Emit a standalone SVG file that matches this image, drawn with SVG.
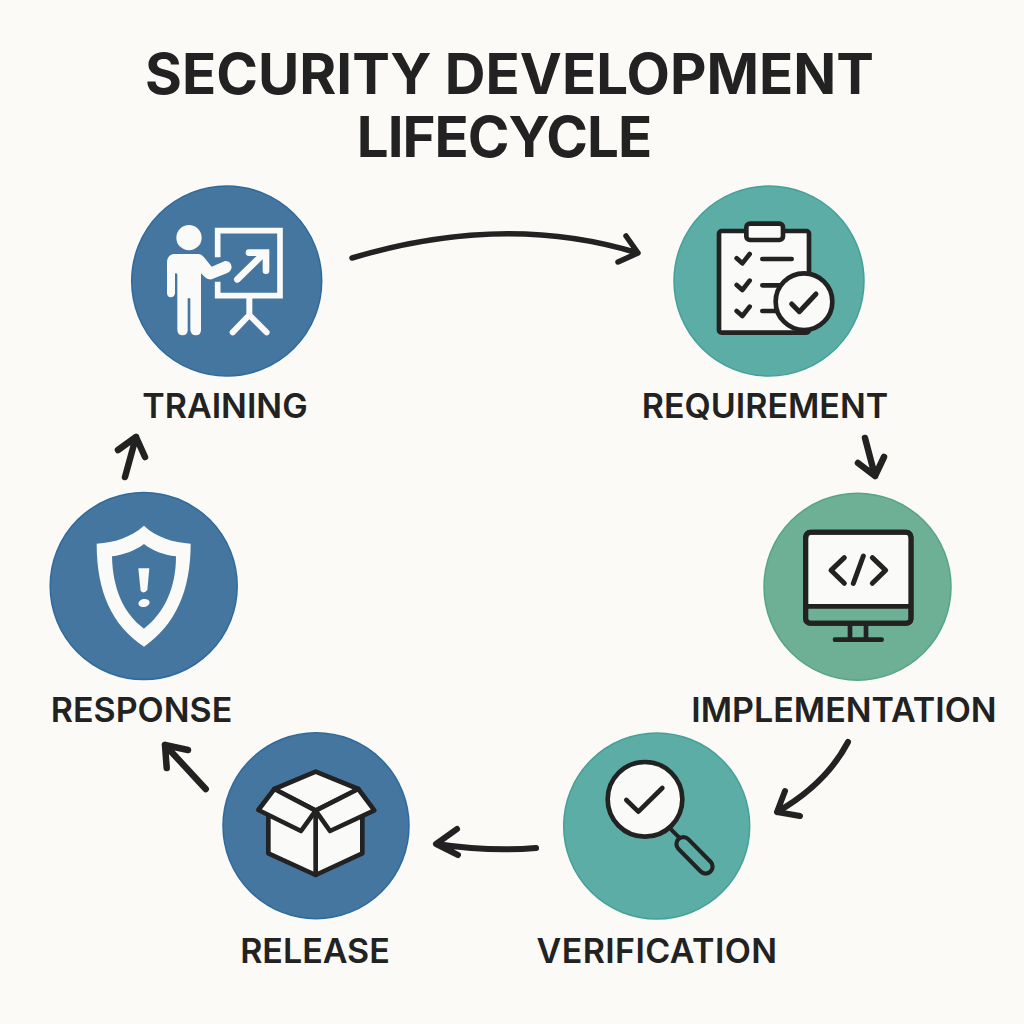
<svg xmlns="http://www.w3.org/2000/svg" width="1024" height="1024" viewBox="0 0 1024 1024">
<style>
text{font-family:Inter,"Liberation Sans",sans-serif;fill:#222;text-anchor:middle}
.title{font-size:56.400px;font-weight:700}
.label{font-size:34px;font-weight:600}
.blue{fill:#44769f;stroke:#2f6a9e;stroke-width:1.5}
.teal{fill:#5cada5;stroke:#44a198;stroke-width:1.5}
.green{fill:#6db095;stroke:#57a487;stroke-width:1.5}
.ink{fill:none;stroke:#222;stroke-linecap:round;stroke-linejoin:round}
.paper{fill:#fafaf8;stroke:#222;stroke-linejoin:round}
.wl{fill:none;stroke:#fafaf8}
.conn{fill:none;stroke:#222;stroke-linecap:round;stroke-linejoin:round}
</style>
<rect width="1024" height="1024" fill="#fbfaf6"/>
<g id="title">
<text class="title"><tspan x="509.500" y="94">SECURITY DEVELOPMENT</tspan><tspan x="504" y="156.500" letter-spacing="-1">LIFECYCLE</tspan></text>
</g>
<g id="connectors">
<path class="conn" stroke-width="5.500" d="M352 258Q505 212 638 253M626 236L638 253L618 262"/>
<path class="conn" stroke-width="6.500" d="M865 438L875 476M858 463L875 476L884 457"/>
<path class="conn" stroke-width="6" d="M848 742Q826 784 777 812M785 791L777 812L800 816"/>
<path class="conn" stroke-width="6" d="M536 848Q490 852 436 844M457 829L436 844L458 855"/>
<path class="conn" stroke-width="6.500" d="M205.700 789L165 745M166.700 768L165 745L188 750"/>
<path class="conn" stroke-width="6.500" d="M125 477L136 437M118 450L136 437L145 457"/>
</g>
<g id="training">
<circle class="blue" cx="226.700" cy="281" r="95"/>
<g transform="translate(120,180) scale(.33333)">
<circle cx="207" cy="173" r="38" fill="#fafaf8"/>
<path fill="#fafaf8" d="M160 222H235Q245 222 252 232L275 260L315 243Q333 242 335 262Q333 275 320 280L275 298Q262 300 255 292L243 280V450Q243 466 227 466Q213 466 211 450V355H203V450Q203 466 187 466Q173 466 172 450V283Q172 280 165 280V340Q163 352 152 352Q142 352 141 340V245Q143 225 160 222Z"/>
<path class="wl" stroke-width="17" d="M293 232V152H480V347H293V305"/>
<path class="wl" stroke-width="18" stroke-linecap="round" d="M388 350V405M338 457L388 405L440 457"/>
<path class="wl" stroke-width="20" stroke-linecap="round" d="M352 298L428 224"/>
<path class="wl" stroke-width="20" stroke-linecap="round" d="M387 218H438V272"/>
</g>
<text class="label" x="225" y="418">TRAINING</text>
</g>
<g id="requirement">
<circle class="teal" cx="769" cy="281" r="95"/>
<g transform="translate(665,180) scale(.33333)">
<rect class="paper" x="162" y="153" width="270" height="305" rx="8" stroke-width="14"/>
<rect class="paper" x="244" y="131" width="110" height="49" rx="11" stroke-width="14"/>
<g class="ink" stroke-width="14">
<path d="M215 235L232 250L254 222M215 315L232 330L254 302M215 393L232 408L254 380"/>
<path d="M292 237H380M292 316H345M292 393H335"/>
</g>
<circle class="paper" cx="417" cy="365" r="85" stroke-width="14"/>
<path class="ink" stroke-width="15" d="M380 372L403 395L453 342"/>
</g>
<text class="label" x="765" y="418">REQUIREMENT</text>
</g>
<g id="implementation">
<circle class="green" cx="857.500" cy="586.700" r="93.500"/>
<g transform="translate(755,485) scale(.33333)">
<rect x="152" y="142" width="316" height="273" rx="14" fill="#6db095" stroke="#222" stroke-width="15"/>
<path fill="#fafaf8" d="M160 163Q160 149 172 149H450Q461 149 461 163V362H160Z"/>
<rect x="152" y="142" width="316" height="273" rx="14" fill="none" stroke="#222" stroke-width="15"/>
<path class="ink" stroke-width="14" d="M155 364H465M285 415V462M333 415V462M240 464H380"/>
<path class="ink" stroke-width="15" d="M268 218L228 256L268 295M325 213L295 295M352 218L392 256L352 295"/>
</g>
<text class="label" x="844" y="722">IMPLEMENTATION</text>
</g>
<g id="verification">
<circle class="teal" cx="656.700" cy="826" r="93"/>
<g transform="translate(555,730) scale(.33333)">
<path class="ink" stroke-width="12" d="M348 298L378 328"/>
<path class="ink" stroke-width="54" d="M385 342L452 410"/>
<path fill="none" stroke="#5cada5" stroke-width="29" stroke-linecap="round" d="M385 342L452 410"/>
<circle class="paper" cx="270" cy="208" r="112" stroke-width="14"/>
<path class="ink" stroke-width="14" d="M214 210L250 245L322 174"/>
</g>
<text class="label" x="657" y="963" letter-spacing=".4">VERIFICATION</text>
</g>
<g id="release">
<circle class="blue" cx="316" cy="825.700" r="93"/>
<g transform="translate(215,725) scale(.33333)">
<path class="paper" stroke-width="14" d="M160 270V385L302 450L442 385V270Z"/>
<path class="paper" stroke-width="14" d="M302 140L430 192L302 257L178 192Z"/>
<path class="paper" stroke-width="14" d="M178 192L302 257L258 318L130 255Z"/>
<path class="paper" stroke-width="14" d="M430 192L478 256L345 318L302 257Z"/>
<path class="ink" stroke-width="14" d="M302 257V450"/>
</g>
<text class="label" x="315" y="963">RELEASE</text>
</g>
<g id="response">
<circle class="blue" cx="143.700" cy="586" r="93.500"/>
<g transform="translate(40,485) scale(.33333)">
<path fill="#fafaf8" fill-rule="evenodd" d="M312 122C270 158 225 172 170 176C170 320 215 420 312 485C405 420 452 320 452 176C400 172 350 158 312 122ZM312 177C285 197 250 210 216 214C218 310 250 385 312 431C372 385 408 310 408 214C370 210 338 197 312 177Z"/>
<path fill="#fafaf8" d="M295 250H328L322 315Q312 328 302 318Z"/>
<ellipse fill="#fafaf8" cx="312" cy="354" rx="17" ry="12" transform="rotate(-10 312 354)"/>
</g>
<text class="label" x="141.500" y="722">RESPONSE</text>
</g>
</svg>
